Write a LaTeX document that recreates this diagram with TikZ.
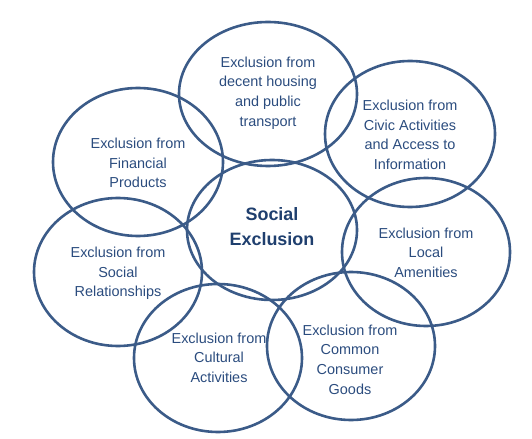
\documentclass[tikz,border=0pt]{standalone}
\usepackage{fontspec}
\setmainfont{Liberation Sans}
\definecolor{ringc}{HTML}{3B5B88}
\definecolor{txtc}{HTML}{2B4C7E}
\definecolor{boldc}{HTML}{1F3F6E}
\begin{document}
\begin{tikzpicture}[x=1bp,y=-1bp,
  ring/.style={draw=ringc,line width=2.6bp},
  lbl/.style={text=txtc,align=center,inner sep=0pt,font=\fontsize{14.5}{19.7}\selectfont},
  mainlbl/.style={text=boldc,align=center,inner sep=0pt,font=\fontsize{18}{25}\selectfont\bfseries}]
\useasboundingbox (0,0) rectangle (532,439);
% ring centres
\coordinate (cH) at (268,94);
\coordinate (cC) at (410,134);
\coordinate (cF) at (138,162);
\coordinate (cS) at (272,230);
\coordinate (cR) at (118,272);
\coordinate (cL) at (426,252);
\coordinate (cU) at (218,358);
\coordinate (cG) at (351,346);
% rings
\draw[ring] (cH) ellipse [x radius=89,y radius=72];
\draw[ring] (cC) ellipse [x radius=85,y radius=73];
\draw[ring] (cF) ellipse [x radius=85,y radius=74];
\draw[ring] (cS) ellipse [x radius=85,y radius=70];
\draw[ring] (cR) ellipse [x radius=84,y radius=74];
\draw[ring] (cL) ellipse [x radius=84,y radius=74];
\draw[ring] (cU) ellipse [x radius=84,y radius=74];
\draw[ring] (cG) ellipse [x radius=84,y radius=74];
% labels
\node[lbl] (tH) at (268,93) {Exclusion from\\decent housing\\and public\\transport};
\node[lbl] (tC) at (410,135) {Exclusion from\\Civic Activities\\and Access to\\Information};
\node[lbl] (tF) at (138,163) {Exclusion from\\Financial\\Products};
\node[mainlbl] (tS) at (272,227) {Social\\Exclusion};
\node[lbl] (tR) at (118,273.5) {Exclusion from\\Social\\Relationships};
\node[lbl] (tL) at (426,252.5) {Exclusion from\\Local\\Amenities};
\node[lbl] (tU) at (219,357.5) {Exclusion from\\Cultural\\Activities};
\node[lbl] (tG) at (350,359.5) {Exclusion from\\Common\\Consumer\\Goods};
\end{tikzpicture}
\end{document}
